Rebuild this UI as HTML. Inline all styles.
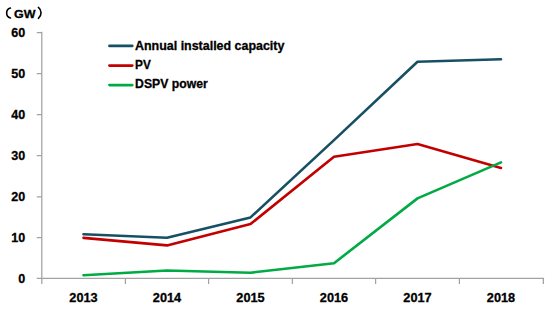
<!DOCTYPE html>
<html><head><meta charset="utf-8"><style>
html,body{margin:0;padding:0;background:#fff;width:550px;height:310px;overflow:hidden}
svg{display:block}
text{font-family:"Liberation Sans",sans-serif;font-weight:bold;font-size:12.5px;fill:#000;stroke:#000;stroke-width:0.3px}
</style></head><body>
<svg width="550" height="310" viewBox="0 0 550 310">
<!-- unit label -->
<path d="M10.4 8.1 A5.14 5.14 0 0 0 10.4 18" fill="none" stroke="#000" stroke-width="1.6" stroke-linecap="round"/>
<text x="14.1" y="18.3" style="font-size:11.8px" textLength="21.5" lengthAdjust="spacingAndGlyphs">GW</text>
<path d="M38.4 7.4 A6.9 6.9 0 0 1 38.4 18.3" fill="none" stroke="#000" stroke-width="1.6" stroke-linecap="round"/>
<!-- axes -->
<g stroke="#a2a2a2" stroke-width="1.25" fill="none">
<path d="M41.8 31.8 V284"/>
<path d="M36.8 278.4 H544.1"/>
<path d="M36.8 32.5 H41.8 M36.8 73.5 H41.8 M36.8 114.6 H41.8 M36.8 155.7 H41.8 M36.8 196.9 H41.8 M36.8 237.6 H41.8"/>
<path d="M125.4 278.4 V284 M208.6 278.4 V284 M292.4 278.4 V284 M375.6 278.4 V284 M459.4 278.4 V284 M543.35 278 V284"/>
</g>
<!-- y labels -->
<g text-anchor="end" style="font-size:13px">
<text x="25.3" y="36.5" textLength="13.95" lengthAdjust="spacingAndGlyphs">60</text>
<text x="25.3" y="78" textLength="13.95" lengthAdjust="spacingAndGlyphs">50</text>
<text x="25.3" y="119.1" textLength="13.95" lengthAdjust="spacingAndGlyphs">40</text>
<text x="25.3" y="160.2" textLength="13.95" lengthAdjust="spacingAndGlyphs">30</text>
<text x="25.3" y="200.6" textLength="13.95" lengthAdjust="spacingAndGlyphs">20</text>
<text x="25.3" y="241.5" textLength="13.95" lengthAdjust="spacingAndGlyphs">10</text>
<text x="25.3" y="283.1" textLength="6.97" lengthAdjust="spacingAndGlyphs">0</text>
</g>
<!-- x labels -->
<g text-anchor="middle" style="font-size:13px">
<text x="83.50" y="301.6" textLength="28.3" lengthAdjust="spacingAndGlyphs">2013</text>
<text x="167.00" y="301.6" textLength="28.3" lengthAdjust="spacingAndGlyphs">2014</text>
<text x="250.50" y="301.6" textLength="28.3" lengthAdjust="spacingAndGlyphs">2015</text>
<text x="334.00" y="301.6" textLength="28.3" lengthAdjust="spacingAndGlyphs">2016</text>
<text x="417.50" y="301.6" textLength="28.3" lengthAdjust="spacingAndGlyphs">2017</text>
<text x="501.00" y="301.6" textLength="28.3" lengthAdjust="spacingAndGlyphs">2018</text>
</g>
<!-- series -->
<g fill="none" stroke-width="2.6" stroke-linecap="round" stroke-linejoin="round">
<polyline stroke="#175062" points="83.5,234.2 167.0,237.7 250.5,217.4 334.0,140.1 417.5,61.8 501.0,59.2"/>
<polyline stroke="#c20000" points="83.5,237.9 167.0,245.4 250.5,224.1 334.0,156.7 417.5,144.0 501.0,167.9"/>
<polyline stroke="#00aa45" points="83.5,275.3 167.0,270.5 250.5,272.7 334.0,263.2 417.5,198.4 501.0,162.4"/>
</g>
<!-- legend -->
<g stroke-width="2.8" stroke-linecap="round">
<path d="M109.5 45.9 H132.2" stroke="#175062"/>
<path d="M109.5 65.6 H132.2" stroke="#c20000"/>
<path d="M109.5 85.1 H132.2" stroke="#00aa45"/>
</g>
<text x="135" y="49.6" textLength="149.4" lengthAdjust="spacingAndGlyphs">Annual installed capacity</text>
<text x="135.1" y="69.4" textLength="15.75" lengthAdjust="spacingAndGlyphs">PV</text>
<text x="135.1" y="87.7" textLength="72.6" lengthAdjust="spacingAndGlyphs">DSPV power</text>
</svg>
</body></html>
